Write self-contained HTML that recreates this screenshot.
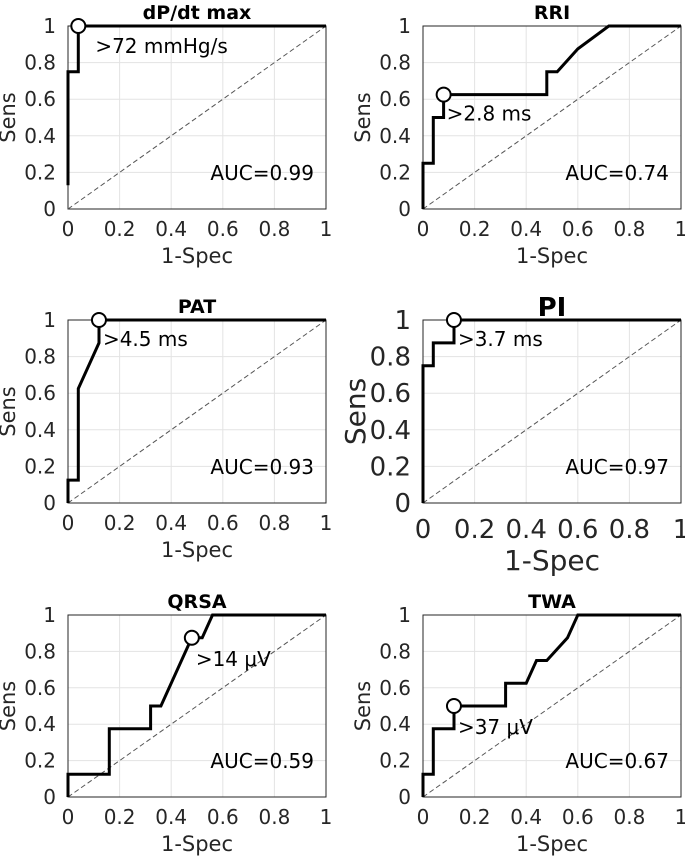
<!DOCTYPE html>
<html><head><meta charset="utf-8"><style>
html,body{margin:0;padding:0;background:#fff;}
svg{display:block;font-family:"DejaVu Sans","Liberation Sans",sans-serif;}
</style></head><body>
<svg id="fig" width="685" height="858" viewBox="0 0 685 858" xmlns="http://www.w3.org/2000/svg"></svg>
<script>
const titles = ["dP/dt max","RRI","PAT","PI","QRSA","TWA"];
const aucLabels = ["AUC=0.99","AUC=0.74","AUC=0.93","AUC=0.97","AUC=0.59","AUC=0.67"];
const cutLabels = [">72 mmHg/s",">2.8 ms",">4.5 ms",">3.7 ms",">14 μV",">37 μV"];
const fprDpdt = [0,0,0.04,0.04,1];
const tprDpdt = [0.13,0.75,0.75,1,1];
const fprRri = [0,0,0.04,0.04,0.08,0.08,0.48,0.48,0.52,0.6,0.72,1];
const tprRri = [0,0.25,0.25,0.5,0.5,0.625,0.625,0.75,0.75,0.875,1,1];
const fprPat = [0,0,0.04,0.04,0.12,0.12,1];
const tprPat = [0,0.125,0.125,0.625,0.875,1,1];
const fprPi = [0,0,0.04,0.04,0.12,0.12,1];
const tprPi = [0,0.75,0.75,0.875,0.875,1,1];
const fprQrsa = [0,0,0.16,0.16,0.32,0.32,0.36,0.48,0.52,0.56,1];
const tprQrsa = [0,0.125,0.125,0.375,0.375,0.5,0.5,0.875,0.875,1,1];
const fprTwa = [0,0,0.04,0.04,0.12,0.12,0.32,0.32,0.4,0.44,0.48,0.56,0.6,1];
const tprTwa = [0,0.125,0.125,0.375,0.375,0.5,0.5,0.625,0.625,0.75,0.75,0.875,1,1];
const cutFpr = [0.04,0.08,0.12,0.12,0.48,0.12];
const cutTpr = [1,0.625,1,1,0.875,0.5];
const tickVals = [0,0.2,0.4,0.6,0.8,1];
const tickLabels = ["0","0.2","0.4","0.6","0.8","1"];

const fprs=[fprDpdt,fprRri,fprPat,fprPi,fprQrsa,fprTwa];
const tprs=[tprDpdt,tprRri,tprPat,tprPi,tprQrsa,tprTwa];
const boxes=[[68,326,209,26],[423,681,209,26],[68,326,503,320],[423,681,503,320],[68,326,797,615],[423,681,797,615]];
const cutOff=[[17,27],[3,26],[4,26],[4,26],[4,28],[4,28]];
const NS="http://www.w3.org/2000/svg";
const svg=document.getElementById('fig');
function mk(tag,attrs,parent){const e=document.createElementNS(NS,tag);for(const k in attrs)e.setAttribute(k,attrs[k]);(parent||svg).appendChild(e);return e;}
for(let p=0;p<6;p++){
  const [X0,X1,Y0,Y1]=boxes[p];
  const big=p===3;
  const sx=v=>X0+v*(X1-X0), sy=v=>Y0-v*(Y0-Y1);
  const g=mk('g',{});
  
  
  mk('rect',{x:X0,y:Y1,width:X1-X0,height:Y0-Y1,fill:'#fff'},g);
  tickVals.forEach((v,i)=>{
    const gl=mk('line',{x1:sx(v),x2:sx(v),y1:Y0,y2:Y1,stroke:'#e3e3e3','stroke-width':1},g);
    
    
    const gh=mk('line',{x1:X0,x2:X1,y1:sy(v),y2:sy(v),stroke:'#e3e3e3','stroke-width':1},g);
    
    
    const tx=mk('text',{x:sx(v),y:Y0+(big?35:27),'text-anchor':'middle','font-size':big?26:20,fill:'#262626'},g);
    tx.textContent=tickLabels[i];
    
    
    const ty=mk('text',{x:X0-(big?12:12),y:sy(v)+(big?9:7),'text-anchor':'end','font-size':big?26:20,fill:'#262626'},g);
    ty.textContent=tickLabels[i];
    
    
  });
  const fr=mk('rect',{x:X0,y:Y1,width:X1-X0,height:Y0-Y1,fill:'none',stroke:'#262626','stroke-width':1},g);
  
  
  const dg=mk('line',{x1:sx(0),y1:sy(0),x2:sx(1),y2:sy(1),stroke:'#555','stroke-width':1,'stroke-dasharray':'5,3'},g);
  
  
  const pts=fprs[p].map((f,i)=>sx(f).toFixed(1)+','+sy(tprs[p][i]).toFixed(1)).join(' ');
  const pl=mk('polyline',{points:pts,fill:'none',stroke:'#000','stroke-width':3,'stroke-linejoin':'miter'},g);
  
  
  const cx=sx(cutFpr[p]),cy=sy(cutTpr[p]);
  const c=mk('circle',{cx:cx,cy:cy,r:7,fill:'#fff',stroke:'#000','stroke-width':2},g);
  
  
  const ct=mk('text',{x:cx+cutOff[p][0],y:cy+cutOff[p][1],'font-size':20,fill:'#000'},g);
  ct.textContent=cutLabels[p];
  
  
  const at=mk('text',{x:X1-12,y:Y0-29,'text-anchor':'end','font-size':20,fill:'#000'},g);
  at.textContent=aucLabels[p];
  
  
  const tt=mk('text',{x:(X0+X1)/2,y:Y1-(big?4:7),'text-anchor':'middle','font-size':big?26:19,'font-weight':'bold',fill:'#000'},g);
  tt.textContent=titles[p];
  
  
  const xl=mk('text',{x:(X0+X1)/2,y:Y0+(big?67:54),'text-anchor':'middle','font-size':big?28:21,fill:'#262626'},g);
  xl.textContent='1-Spec';
  
  
  const yx=X0-(big?58:53), yy=(Y0+Y1)/2;
  const yl=mk('text',{x:yx,y:yy,'text-anchor':'middle','font-size':big?28:21,fill:'#262626',transform:'rotate(-90 '+yx+' '+yy+')'},g);
  yl.textContent='Sens';
  
  
}
</script>
</body></html>
